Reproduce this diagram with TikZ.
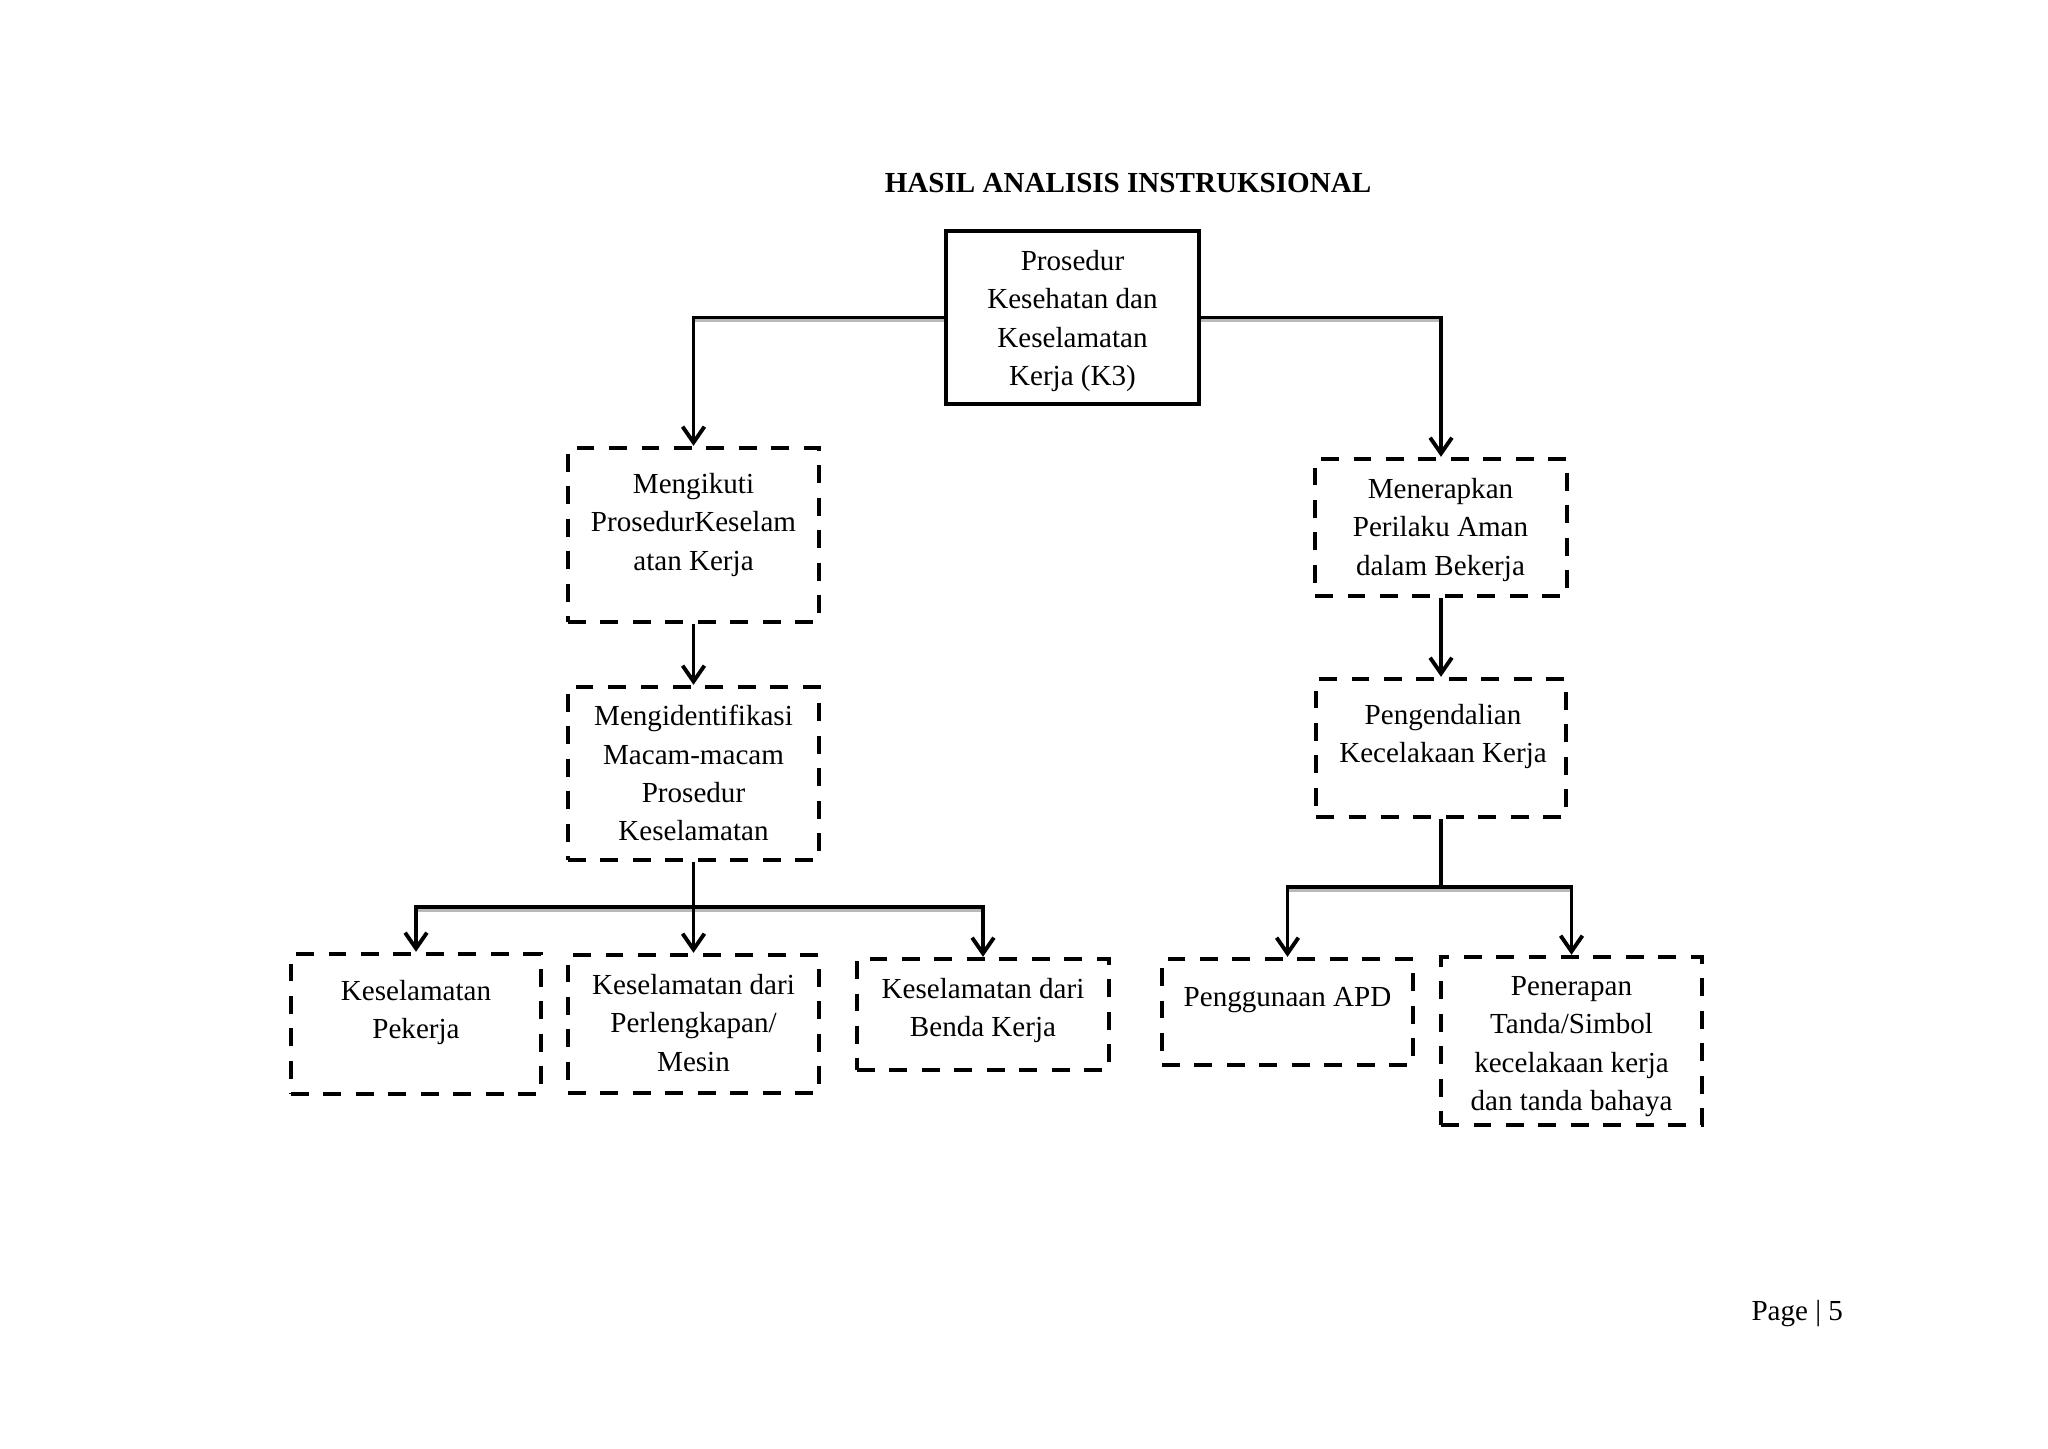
\documentclass[tikz,border=0pt]{standalone}
\usepackage{fontspec}
\setmainfont{Liberation Serif}
\usetikzlibrary{arrows.meta,fit,calc}
\begin{document}
\begin{tikzpicture}[x=0.14502mm,y=-0.14502mm,
  solidbox/.style={draw, line width=1.55pt, inner sep=0pt},
  dbox/.style={draw, line width=1.8pt, inner sep=0pt, dash pattern=on 7.4pt off 6pt},
  txt/.style={align=center, inner sep=0pt, anchor=north, font=\fontsize{12}{15.8}\selectfont},
  plain/.style={line width=1.6pt},
  conn/.style={line width=1.6pt, -{Straight Barb[length=6.5pt,width=9pt]}},
  shadowline/.style={draw=gray!55, line width=1.3pt, transform canvas={yshift=-1.3pt}}]
\useasboundingbox (0,0) rectangle (2048,1448);

% title and footer
\node[inner sep=0pt, anchor=base, font=\fontsize{12}{14}\selectfont\bfseries] (title) at (1128,192) {HASIL ANALISIS INSTRUKSIONAL};
\node[inner sep=0pt, anchor=base west, font=\fontsize{12}{14}\selectfont] (page) at (1751,1320) {Page | 5};

% boxes
\node[solidbox, fit={(946,231) (1199,404)}] (top) {};
\node[dbox, fit={(568,448) (819,622)}] (m1) {};
\node[dbox, fit={(568,687) (819,860)}] (m2) {};
\node[dbox, fit={(291,954) (541,1094)}] (k1) {};
\node[dbox, fit={(568,955) (819,1093)}] (k2) {};
\node[dbox, fit={(857,959) (1109,1070)}] (k3) {};
\node[dbox, fit={(1315,459) (1567,596)}] (r1) {};
\node[dbox, fit={(1316,679) (1566,817)}] (r2) {};
\node[dbox, fit={(1162,959) (1413,1065)}] (a1) {};
\node[dbox, fit={(1441,957) (1702,1125)}] (a2) {};

% texts
\node[txt] (topt) at (1072.5,250) {Prosedur\\Kesehatan dan\\Keselamatan\\Kerja (K3)};
\node[txt] (m1t) at (693.5,473) {Mengikuti\\ProsedurKeselam\\atan Kerja};
\node[txt] (m2t) at (693.5,705) {Mengidentifikasi\\Macam-macam\\Prosedur\\Keselamatan};
\node[txt] (k1t) at (416,980) {Keselamatan\\Pekerja};
\node[txt] (k2t) at (693.5,974) {Keselamatan dari\\Perlengkapan/\\Mesin};
\node[txt] (k3t) at (983,978) {Keselamatan dari\\Benda Kerja};
\node[txt] (r1t) at (1440.5,478) {Menerapkan\\Perilaku Aman\\dalam Bekerja};
\node[txt] (r2t) at (1443,704) {Pengendalian\\Kecelakaan Kerja};
\node[txt] (a1t) at (1287.5,987) {Penggunaan APD};
\node[txt] (a2t) at (1571.5,976) {Penerapan\\Tanda/Simbol\\kecelakaan kerja\\dan tanda bahaya};

% junction coordinates
\coordinate (bl) at (m2.south |- 0,907);
\coordinate (br) at (r2.south |- 0,887);

% shadows of horizontal connectors
\draw[shadowline] (top.west) -- (m1.north |- top.west);
\draw[shadowline] (top.east) -- (r1.north |- top.east);
\draw[shadowline] (k1.north |- bl) -- (k3.north |- bl);
\draw[shadowline] (a1.north |- br) -- (a2.north |- br);

% connectors
\draw[conn] (top.west) -| (m1.north);
\draw[conn] (top.east) -| (r1.north);
\draw[conn] (m1.south) -- (m2.north);
\draw[conn] (m2.south) -- (k2.north);
\draw[conn] (bl) -| (k1.north);
\draw[conn] (bl) -| (k3.north);
\draw[conn] (r1.south) -- (r2.north);
\draw[plain] (r2.south) -- (br);
\draw[conn] (br) -| (a1.north);
\draw[conn] (br) -| (a2.north);
\end{tikzpicture}
\end{document}
